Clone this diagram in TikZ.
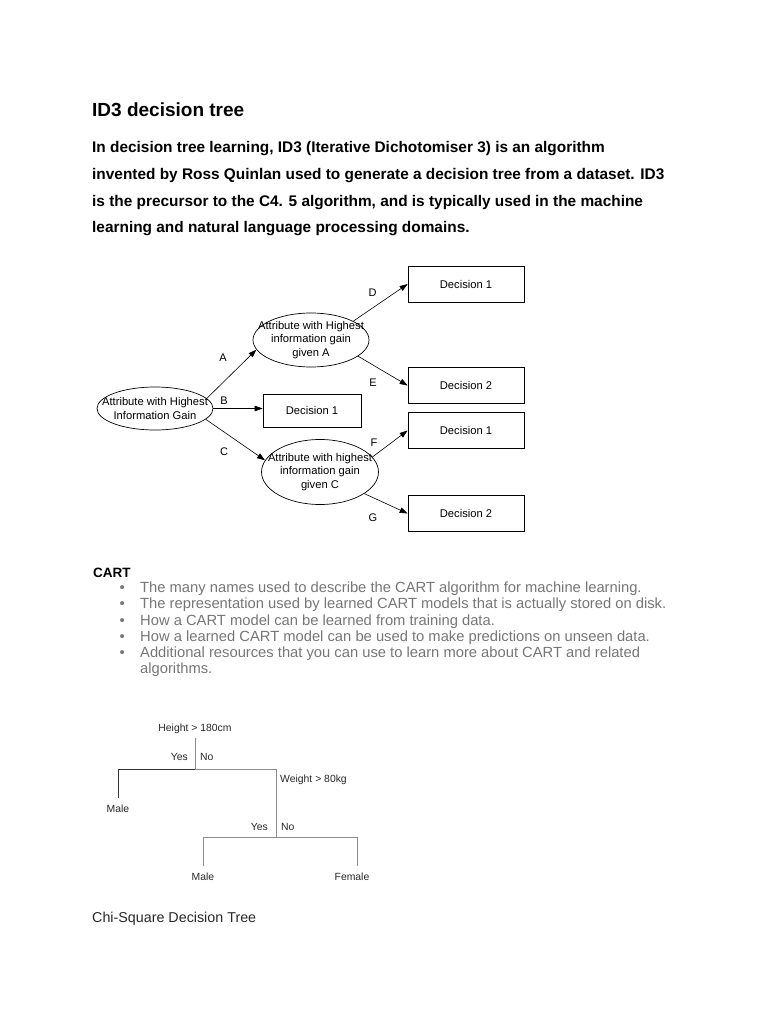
\documentclass[tikz,border=0pt]{standalone}
\usepackage{fontspec}
\setmainfont{Liberation Sans}
\usetikzlibrary{arrows.meta,positioning,shapes.geometric}
\definecolor{listgray}{RGB}{118,118,118}
\definecolor{treegray}{RGB}{140,140,140}
\definecolor{inkgray}{RGB}{40,40,40}
\newcommand{\bitem}{\makebox[20.6pt][l]{\textbullet}}

\begin{document}
\begin{tikzpicture}[
    x=1pt, y=-1pt,
    heading/.style={
        anchor=base west,
        inner sep=0pt,
        font=\fontsize{19}{23}\selectfont\bfseries
    },
    intro/.style={
        anchor=north west,
        inner sep=0pt,
        align=left,
        font=\fontsize{15.4}{26.7}\selectfont\bfseries
    },
    attr/.style={
        ellipse,
        draw=black,
        line width=0.7pt,
        inner xsep=-40pt,
        inner ysep=-25pt,
        align=center,
        font=\fontsize{11.2}{13.3}\selectfont
    },
    decision/.style={
        rectangle,
        draw=black,
        line width=0.7pt,
        minimum width=116pt,
        minimum height=36pt,
        font=\fontsize{11.2}{13.3}\selectfont
    },
    branch/.style={inner sep=0pt, font=\fontsize{11}{13}\selectfont},
    flow/.style={-{Triangle[length=8pt,width=5.5pt]}, line width=0.6pt},
    subhead/.style={
        anchor=base west,
        inner sep=0pt,
        font=\fontsize{13.5}{15}\selectfont\bfseries
    },
    cartlist/.style={
        anchor=north west,
        inner sep=0pt,
        align=left,
        text=listgray,
        font=\fontsize{14.75}{16.25}\selectfont
    },
    caption/.style={
        anchor=base west,
        inner sep=0pt,
        text=inkgray,
        font=\fontsize{14.3}{17}\selectfont
    },
    test/.style={inner sep=4pt, text=inkgray, font=\fontsize{10.4}{12}\selectfont},
    answer/.style={inner sep=0pt, text=inkgray, font=\fontsize{10.4}{12}\selectfont},
    outcome/.style={inner sep=7.4pt, text=inkgray, font=\fontsize{10.4}{12}\selectfont},
    splitline/.style={draw=treegray, line width=1pt}
]
\useasboundingbox (0,0) rectangle (768,1024);

% ID3 text
\node[heading] (title) at (92,116.7) {ID3 decision tree};
\node[intro] (intro) at (92,141.5) {In decision tree learning, ID3 (Iterative Dichotomiser 3) is an algorithm\\
    invented by Ross Quinlan used to generate a decision tree from a dataset. ID3\\
    is the precursor to the C4. 5 algorithm, and is typically used in the machine\\
    learning and natural language processing domains.};

% ID3 tree
\node[attr, minimum width=116pt, minimum height=43pt] (root) at (155,408.5) {Attribute with Highest\\Information Gain};
\node[attr, minimum width=116pt, minimum height=54pt] (givenA) at (311,340) {Attribute with Highest\\information gain\\given A};
\node[attr, minimum width=117pt, minimum height=65pt] (givenC) at (320,472) {Attribute with highest\\information gain\\given C};
\node[decision, minimum width=98pt, minimum height=33pt] (midB) at (312,410.5) {Decision 1};
\node[decision] (leafD) at (466,284) {Decision 1};
\node[decision] (leafE) at (466,385.5) {Decision 2};
\node[decision] (leafF) at (466,430.5) {Decision 1};
\node[decision] (leafG) at (466,513.5) {Decision 2};

\draw[flow] (root.11) -- (givenA.190);
\draw[flow] (root.east) -- (root.east -| midB.west);
\draw[flow] (root.-12) -- (givenC.168);
\draw[flow] (givenA.24) -- (leafD.west);
\draw[flow] (givenA.-19) -- (leafE.west);
\draw[flow] (givenC.16) -- (leafF.west);
\draw[flow] (givenC.-26) -- (leafG.west);

\node[branch] (labA) at (223,358) {A};
\node[branch] (labB) at (224,401) {B};
\node[branch] (labC) at (224,452) {C};
\node[branch] (labD) at (372.7,292.5) {D};
\node[branch] (labE) at (373,383) {E};
\node[branch] (labF) at (374,442.5) {F};
\node[branch] (labG) at (373,517.5) {G};

% CART
\node[subhead] (cart) at (93,577) {CART};
\node[cartlist] (cartpoints) at (119.4,581.7) {\bitem The many names used to describe the CART algorithm for machine learning.\\
    \bitem The representation used by learned CART models that is actually stored on disk.\\
    \bitem How a CART model can be learned from training data.\\
    \bitem How a learned CART model can be used to make predictions on unseen data.\\
    \bitem Additional resources that you can use to learn more about CART and related\\
    \hspace*{20.6pt}algorithms.};

% height / weight tree
\node[test] (height) at (195,729) {Height > 180cm};
\coordinate (fork1) at (195,769);
\coordinate (fork2) at (276,837);
\node[answer, anchor=east] (yes1) at (188,757) {Yes};
\node[answer, anchor=west] (no1) at (200,757) {No};
\node[answer, anchor=west] (weight) at (280,780) {Weight > 80kg};
\node[answer, anchor=east] (yes2) at (268,827) {Yes};
\node[answer, anchor=west] (no2) at (281,827) {No};
\node[outcome] (male1) at (118,809) {Male};
\node[outcome] (male2) at (203,877) {Male};
\node[outcome] (female) at (352,877) {Female};

\draw[splitline] (height.south) -- (fork1);
\draw[splitline] (fork1) -| (fork2);
\draw[splitline, draw=black!80] (fork1) -| (male1.north);
\draw[splitline] (fork2) -| (male2.north);
\draw[splitline] (fork2) -| ([xshift=5pt]female.north);

\node[caption] (chisq) at (92,922) {Chi-Square Decision Tree};

\end{tikzpicture}
\end{document}
